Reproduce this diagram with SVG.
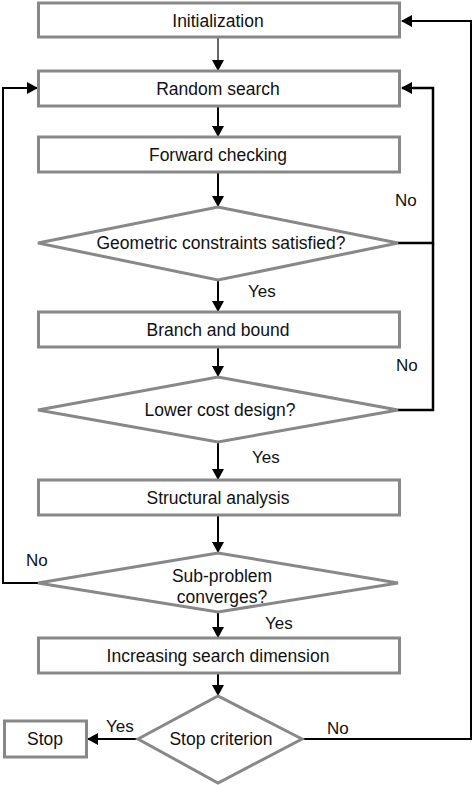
<svg xmlns="http://www.w3.org/2000/svg" width="474" height="785" viewBox="0 0 474 785">
<defs>
<style>
.box{fill:#fff;stroke:#888;stroke-width:3}
.t{font-family:"Liberation Sans",Arial,sans-serif;font-size:17.5px;fill:#111;text-anchor:middle}
.lb{font-family:"Liberation Sans",Arial,sans-serif;font-size:17px;fill:#111}
.c{fill:none;stroke:#000;stroke-width:2}
.thin{stroke-width:1.2}
.fb{stroke-width:2.5}
</style>
<marker id="ah" markerUnits="userSpaceOnUse" markerWidth="11" markerHeight="12" refX="10" refY="6" orient="auto">
<path d="M0,0 L11,6 L0,12 Z" fill="#000"/>
</marker>
</defs>
<rect width="474" height="785" fill="#fff"/>
<g id="connectors">
<line class="c thin" x1="218" y1="38" x2="218" y2="70" marker-end="url(#ah)"/>
<line class="c" x1="218" y1="107" x2="218" y2="136" marker-end="url(#ah)"/>
<line class="c" x1="218" y1="173" x2="218" y2="206" marker-end="url(#ah)"/>
<line class="c" x1="218" y1="281" x2="218" y2="311" marker-end="url(#ah)"/>
<line class="c" x1="218" y1="348" x2="218" y2="376" marker-end="url(#ah)"/>
<line class="c" x1="218" y1="443" x2="218" y2="479" marker-end="url(#ah)"/>
<line class="c" x1="218" y1="516" x2="218" y2="552" marker-end="url(#ah)"/>
<line class="c" x1="218" y1="613" x2="218" y2="637" marker-end="url(#ah)"/>
<line class="c" x1="218" y1="674" x2="218" y2="695" marker-end="url(#ah)"/>
<polyline class="c fb" points="398,243 433,243 433,88 402,88" marker-end="url(#ah)"/>
<polyline class="c fb" points="398,410 433,410 433,243"/>
<polyline class="c" points="38,583 3,583 3,88 37,88" marker-end="url(#ah)"/>
<polyline class="c" points="302,739 471,739 471,21 402,21" marker-end="url(#ah)"/>
<line class="c" x1="138" y1="739" x2="88" y2="739" marker-end="url(#ah)"/>
</g>
<g id="init"><rect class="box" x="38.5" y="3" width="361" height="34"/><text class="t" x="218" y="26.5">Initialization</text></g>
<g id="random"><rect class="box" x="38.5" y="71" width="361" height="35"/><text class="t" x="218" y="94.5">Random search</text></g>
<g id="forward"><rect class="box" x="38.5" y="137" width="361" height="35"/><text class="t" x="218" y="160.5">Forward checking</text></g>
<g id="geom"><polygon class="box" points="38,243 218,207 398,243 218,280"/><text class="t" x="221" y="249">Geometric constraints satisfied?</text></g>
<g id="branch"><rect class="box" x="38.5" y="312" width="361" height="35"/><text class="t" x="218" y="335.5">Branch and bound</text></g>
<g id="lower"><polygon class="box" points="38,410 218,377 398,410 218,442"/><text class="t" x="220" y="416">Lower cost design?</text></g>
<g id="structural"><rect class="box" x="38.5" y="480" width="361" height="35"/><text class="t" x="218" y="503.5">Structural analysis</text></g>
<g id="subproblem"><polygon class="box" points="38,583 218,553 398,583 218,612"/><text class="t" x="222" y="582">Sub-problem</text><text class="t" x="222" y="603">converges?</text></g>
<g id="increasing"><rect class="box" x="38.5" y="638" width="361" height="35"/><text class="t" x="218" y="661.5">Increasing search dimension</text></g>
<g id="criterion"><polygon class="box" points="138,739 218,696 302,739 218,783"/><text class="t" x="221" y="745">Stop criterion</text></g>
<g id="stop"><rect class="box" x="4.5" y="721" width="82" height="36"/><text class="t" x="45" y="745">Stop</text></g>
<g id="labels">
<text class="lb" x="395" y="206">No</text>
<text class="lb" x="248" y="297">Yes</text>
<text class="lb" x="396" y="371">No</text>
<text class="lb" x="252" y="463">Yes</text>
<text class="lb" x="26" y="566">No</text>
<text class="lb" x="265" y="629">Yes</text>
<text class="lb" x="106" y="732">Yes</text>
<text class="lb" x="327" y="734">No</text>
</g>
</svg>
